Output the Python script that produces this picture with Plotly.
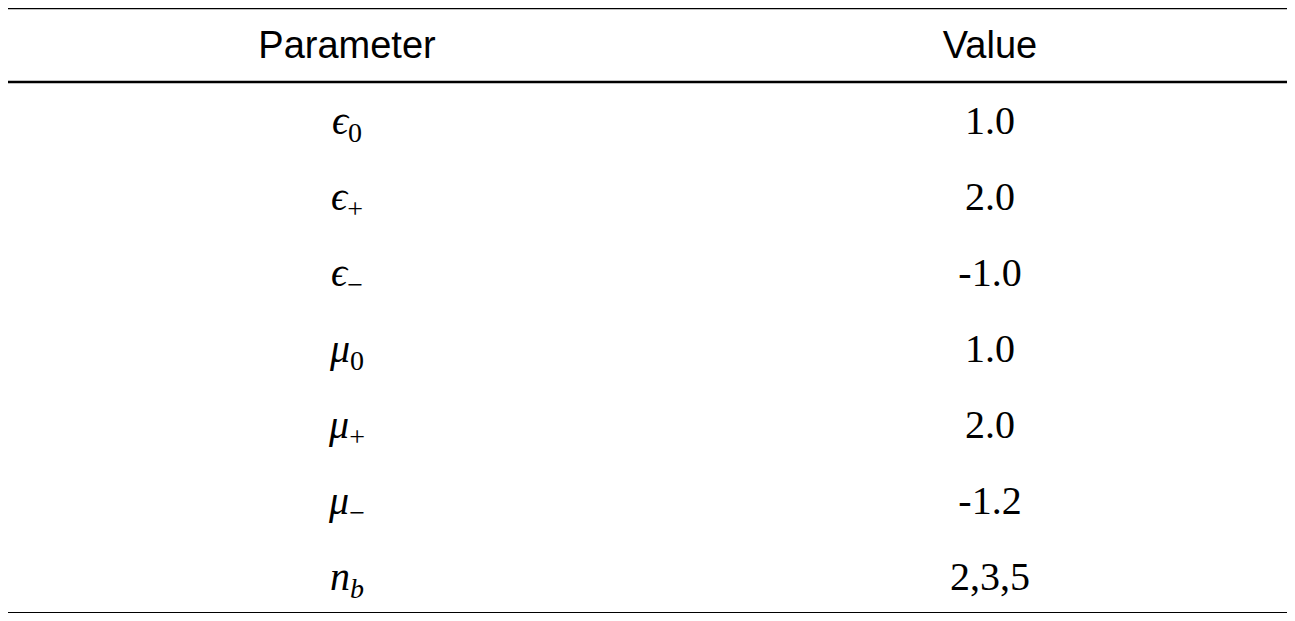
import plotly.graph_objects as go

headers = ["Parameter", "Value"]
params = ["<i>ϵ</i><sub>0</sub>", "<i>ϵ</i><sub>+</sub>", "<i>ϵ</i><sub>−</sub>",
          "<i>μ</i><sub>0</sub>", "<i>μ</i><sub>+</sub>", "<i>μ</i><sub>−</sub>",
          "<i>n</i><sub><i>b</i></sub>"]
values = ["1.0", "2.0", "-1.0", "1.0", "2.0", "-1.2", "2,3,5"]

col_x = [347, 990]
rows = list(range(1, len(params) + 1))

fig = go.Figure()
fig.add_trace(go.Scatter(x=col_x, y=[0, 0], text=headers, mode="text",
                         textfont=dict(family="Liberation Sans", size=38, color="black"),
                         hoverinfo="skip"))
fig.add_trace(go.Scatter(x=[col_x[0]] * len(params), y=rows, text=params, mode="text",
                         textfont=dict(family="Liberation Serif", size=40, color="black"),
                         hoverinfo="skip"))
fig.add_trace(go.Scatter(x=[col_x[1]] * len(values), y=rows, text=values, mode="text",
                         textfont=dict(family="Liberation Serif", size=40, color="black"),
                         hoverinfo="skip"))

for y, w in [(-0.53, 3), (0.447, 2.5), (7.44, 3)]:
    fig.add_shape(type="line", x0=8, x1=1287, y0=y, y1=y, xref="x", yref="y",
                  line=dict(color="black", width=w))

# figure is placed with an 8px page margin; map pixel coordinates 8..1287 / 8..613
fig.update_layout(
    width=1279, height=605, margin=dict(l=0, r=0, t=0, b=0),
    paper_bgcolor="white", plot_bgcolor="white", showlegend=False,
    xaxis=dict(range=[8, 1287], visible=False, fixedrange=True),
    yaxis=dict(range=[(613 - 48) / 76, (8 - 48) / 76], visible=False, fixedrange=True),
)
fig.write_html("out.html")
